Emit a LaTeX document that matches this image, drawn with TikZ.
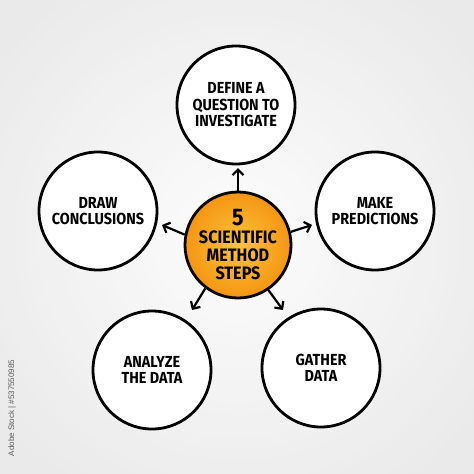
\documentclass[tikz,border=0pt]{standalone}
\usepackage{fontspec}
\newfontfamily\hand{Fira Sans}[FakeStretch=0.9]
\newfontfamily\wmfont{Liberation Sans}
\usetikzlibrary{arrows.meta,shadings}
\definecolor{bgout}{RGB}{226,226,226}
\definecolor{bgin}{RGB}{252,252,252}
\definecolor{orin}{RGB}{253,196,60}
\definecolor{orout}{RGB}{244,150,18}
\definecolor{wmgray}{RGB}{90,90,90}
\tikzset{
  outer/.style={circle, draw=black, line width=2.8pt, fill=white, minimum size=118pt, inner sep=0pt,
    font=\hand\bfseries\fontsize{16}{16.5}\selectfont, align=center},
  hub/.style={circle, draw=black, line width=2.8pt, minimum size=106pt, inner sep=0pt,
    inner color=orin, outer color=orout,
    font=\hand\bfseries\fontsize{18}{18}\selectfont, align=center},
  arr/.style={line width=2.2pt, -{Straight Barb[length=5.5pt,width=11pt,line width=2.2pt]}},
  wm/.style={font=\wmfont\fontsize{8}{8}\selectfont, text=wmgray, rotate=90}
}
\begin{document}
\begin{tikzpicture}[x=1pt,y=-1pt]
\useasboundingbox (0,0) rectangle (474,474);
\shade[inner color=bgin, outer color=bgout] (-60,-60) rectangle (534,534);
\fill[white, opacity=0.3] (0,0) rectangle (474,474);

\node[hub] (c) at (238,245) {{\fontsize{24}{22}\selectfont 5}\\SCIENTIFIC\\METHOD\\STEPS};

\node[outer] (q) at (236,105) {DEFINE A\\QUESTION TO\\INVESTIGATE};
\node[outer] (p) at (375,211) {MAKE\\PREDICTIONS};
\node[outer] (g) at (321,368) {GATHER\\DATA};
\node[outer] (a) at (152,370) {ANALYZE\\THE DATA};
\node[outer] (d) at (98,211) {DRAW\\CONCLUSIONS};

\coordinate (tq) at (238,168);
\coordinate (tp) at (312,225);
\coordinate (tg) at (283,310);
\coordinate (ta) at (192,310);
\coordinate (td) at (162,225);

\draw[arr] (c.90) -- (tq);
\draw[arr] (c.14) -- (tp);
\draw[arr] (c.304) -- (tg);
\draw[arr] (c.233) -- (ta);
\draw[arr] (c.169) -- (td);

\node[wm] (w) at (12,408) {Adobe Stock | \#537550985};
\end{tikzpicture}
\end{document}
